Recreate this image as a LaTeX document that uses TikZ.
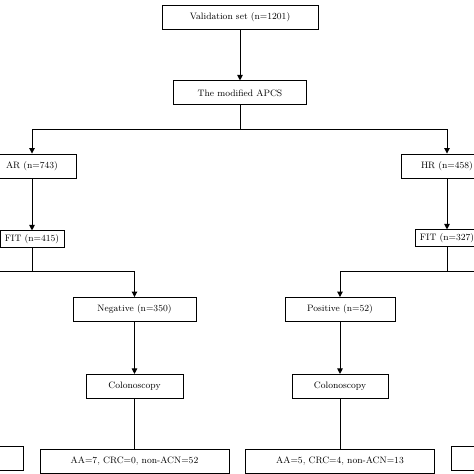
\documentclass[tikz,border=0pt]{standalone}
\usepackage{tikz}
\usetikzlibrary{arrows.meta,positioning,calc}

\begin{document}
\begin{tikzpicture}[
  x=1pt,y=-1pt,
  font=\fontsize{9.3}{11}\selectfont,
  box/.style={draw,line width=0.9pt,align=center,minimum height=24pt,inner sep=2pt},
  fitbox/.style={box,minimum height=17pt},
  arr/.style={-{Triangle[width=5.5pt,length=5.5pt]},line width=1pt},
  link/.style={line width=1pt}
]
\clip (0,0) rectangle (474,474);
\node[box,minimum width=156pt] at (240,17) (val) {Validation set (n=1201)};
\node[box,minimum width=133pt,below=51pt of val] (apcs) {The modified APCS};
\node[box,minimum width=88pt] at (32,166) (ar) {AR (n=743)};
\node[box,minimum width=92pt] at (447,166) (hr) {HR (n=458)};
\node[fitbox,minimum width=64pt,below=52pt of ar] (fitL) {FIT (n=415)};
\node[fitbox,minimum width=64pt,below=51pt of hr] (fitR) {FIT (n=327)};
\node[box,minimum width=123pt] at (134.5,309.5) (neg) {Negative (n=350)};
\node[box,minimum width=110pt] at (340,309.5) (pos) {Positive (n=52)};
\node[box,minimum width=97pt,below=52pt of neg] (colL) {Colonoscopy};
\node[box,minimum width=96pt,below=52pt of pos] (colR) {Colonoscopy};
\node[box,minimum width=189pt,below=50pt of colL] (resL) {AA=7, CRC=0, non-ACN=52};
\node[box,minimum width=189pt,below=50pt of colR] (resR) {AA=5, CRC=4, non-ACN=13};
% boxes cut off at the edges
\node[box,minimum width=189pt] at (-71.5,458) (resLL) {};
\node[box,minimum width=189pt] at (545.5,458) (resRR) {};

\coordinate (fork0) at (240,129);
\coordinate (forkL) at (32,271);
\coordinate (forkR) at (447,271);
\coordinate (offL) at (-70,271);
\coordinate (offR) at (554,271);

\draw[arr] (val) -- (apcs);
\draw[link] (apcs.south) -- (fork0);
\draw[arr] (fork0) -| (ar.north);
\draw[arr] (fork0) -| (hr.north);
\draw[arr] (ar) -- (fitL);
\draw[arr] (hr) -- (fitR);
\draw[link] (fitL.south) -- (forkL) -- (offL);
\draw[arr] (forkL) -| (neg.north);
\draw[link] (fitR.south) -- (forkR) -- (offR);
\draw[arr] (forkR) -| (pos.north);
\draw[arr] (neg) -- (colL);
\draw[arr] (pos) -- (colR);
\draw[link] (colL) -- (resL);
\draw[link] (colR) -- (resR);
\end{tikzpicture}
\end{document}
